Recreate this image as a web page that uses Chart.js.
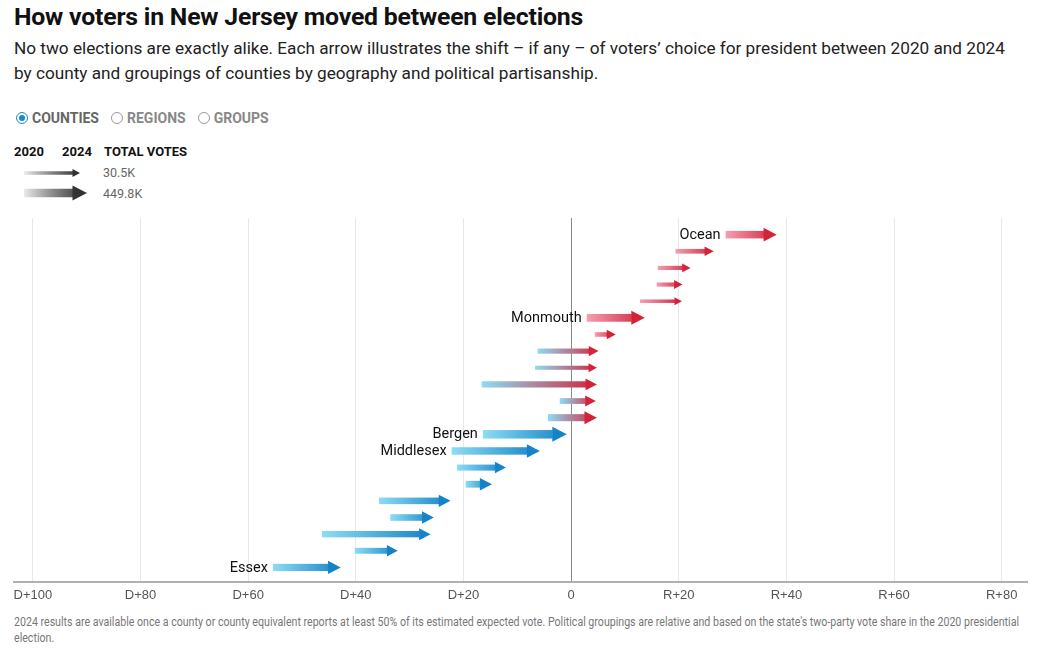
<!DOCTYPE html>
<html>
<head>
<meta charset="utf-8">
<script src="https://cdn.jsdelivr.net/npm/chart.js@4/dist/chart.umd.min.js"></script>
<style>
  body { margin: 0; background: #fff; font-family: Roboto, "Noto Sans", sans-serif; }
  #page { position: relative; width: 1042px; height: 648px; overflow: hidden; }
  h1 { position: absolute; left: 14px; top: 2px; margin: 0; font-size: 24.8px; font-weight: 700; color: #111; letter-spacing: -0.2px; }
  .sub { position: absolute; left: 14px; top: 36px; margin: 0; font-size: 17.2px; line-height: 25px; color: #222; }
  .radios { position: absolute; left: 16px; top: 110px; font-size: 14px; font-weight: 700; color: #888; display: flex; }
  .radio { display: flex; align-items: center; margin-right: 12px; }
  .radio span.c { width: 10px; height: 10px; border: 1.5px solid #999; border-radius: 50%; margin-right: 4px; box-sizing: content-box; position: relative; }
  .radio.on span.c { border-color: #1a8ad0; }
  .radio.on span.c::after { content: ""; position: absolute; left: 2px; top: 2px; width: 6px; height: 6px; border-radius: 50%; background: #1a8ad0; }
  .radio.on { color: #666; }
  .lgh { position: absolute; top: 144px; font-size: 13px; font-weight: 700; color: #111; }
  .lgv { position: absolute; left: 103px; font-size: 12.5px; color: #666; }
  #legendArrows { position: absolute; left: 0; top: 162px; }
  #wrap { position: absolute; left: 0; top: 210px; width: 1042px; height: 398px; }
  .foot { position: absolute; left: 14px; top: 614px; width: 1150px; font-size: 12px; line-height: 16px; color: #777; transform: scaleX(0.885); transform-origin: 0 0; }
</style>
</head>
<body>
<div id="page">
  <h1>How voters in New Jersey moved between elections</h1>
  <p class="sub">No two elections are exactly alike. Each arrow illustrates the shift – if any – of voters’ choice for president between 2020 and 2024<br>by county and groupings of counties by geography and political partisanship.</p>
  <div class="radios">
    <div class="radio on"><span class="c"></span>COUNTIES</div>
    <div class="radio"><span class="c"></span>REGIONS</div>
    <div class="radio"><span class="c"></span>GROUPS</div>
  </div>
  <div class="lgh" style="left:14px">2020</div>
  <div class="lgh" style="left:62px">2024</div>
  <div class="lgh" style="left:104px">TOTAL VOTES</div>
  <canvas id="legendArrows" width="100" height="40"></canvas>
  <div class="lgv" id="lgMin" style="top:165px"></div>
  <div class="lgv" id="lgMax" style="top:186px"></div>
  <div id="wrap"><canvas id="chart"></canvas></div>
  <div class="foot">2024 results are available once a county or county equivalent reports at least 50% of its estimated expected vote. Political groupings are relative and based on the state's two-party vote share in the 2020 presidential<br>election.</div>
</div>
<script>
// counties top to bottom; margins in points, negative = D, positive = R
const counties = ["Ocean", "Sussex", "Warren", "Cape May", "Salem", "Monmouth", "Hunterdon",
  "Atlantic", "Cumberland", "Passaic", "Gloucester", "Morris", "Bergen", "Middlesex",
  "Somerset", "Burlington", "Union", "Camden", "Hudson", "Mercer", "Essex"];
const margin2020 = [28.7, 19.4, 16.1, 15.9, 12.8, 2.9, 4.4, -6.2, -6.7, -16.6, -2.1, -4.3,
  -16.4, -22.2, -21.2, -19.6, -35.7, -33.6, -46.3, -40.2, -55.4];
const margin2024 = [38.2, 26.5, 22.2, 20.7, 20.6, 13.7, 8.3, 5.1, 4.8, 4.8, 4.6, 4.8,
  -0.8, -5.8, -12.1, -14.7, -22.4, -25.5, -26.1, -32.2, -42.8];
// total votes, thousands
const totalVotes = [330, 85, 57, 58, 30.5, 360, 80, 115, 55, 200, 160, 280,
  449.8, 320, 180, 250, 230, 230, 210, 170, 290];
const labeled = ["Ocean", "Monmouth", "Bergen", "Middlesex", "Essex"];
const tickValues = [-100, -80, -60, -40, -20, 0, 20, 40, 60, 80];

const minVotes = Math.min(...totalVotes);
const maxVotes = Math.max(...totalVotes);

const RED_LIGHT = "#f3a0b1", RED_DARK = "#d3233b";
const BLUE_LIGHT = "#8ddcf4", BLUE_DARK = "#1683c6";

function sizeFor(v) {
  const t = (Math.sqrt(v) - Math.sqrt(minVotes)) / (Math.sqrt(maxVotes) - Math.sqrt(minVotes));
  return { shaft: 3.5 + 5 * t, head: 8 + 7 * t, len: 7.5 + 7 * t };
}

function drawArrow(ctx, x0, x1, y, size, c0, c1) {
  const g = ctx.createLinearGradient(x0, 0, x1, 0);
  g.addColorStop(0, c0);
  g.addColorStop(1, c1);
  const hx = x1 - size.len;
  ctx.fillStyle = g;
  ctx.fillRect(x0, y - size.shaft / 2, Math.max(0, hx - x0 + 0.5), size.shaft);
  ctx.fillStyle = c1;
  ctx.beginPath();
  ctx.moveTo(hx, y - size.head / 2);
  ctx.lineTo(x1, y);
  ctx.lineTo(hx, y + size.head / 2);
  ctx.closePath();
  ctx.fill();
}

// legend
(function () {
  const lc = document.getElementById("legendArrows").getContext("2d");
  drawArrow(lc, 24, 80, 11, sizeFor(minVotes), "rgba(0,0,0,0.08)", "#333");
  drawArrow(lc, 24, 87, 31, sizeFor(maxVotes), "rgba(0,0,0,0.08)", "#333");
  document.getElementById("lgMin").textContent = minVotes.toFixed(1) + "K";
  document.getElementById("lgMax").textContent = maxVotes.toFixed(1) + "K";
})();

const arrowPlugin = {
  id: "arrows",
  afterDatasetsDraw(chart) {
    const ctx = chart.ctx;
    const xs = chart.scales.x, ys = chart.scales.y;
    ctx.save();
    counties.forEach((name, i) => {
      const x0 = xs.getPixelForValue(margin2020[i]);
      const x1 = xs.getPixelForValue(margin2024[i]);
      const y = ys.getPixelForValue(i);
      const c0 = margin2020[i] < 0 ? BLUE_LIGHT : RED_LIGHT;
      const c1 = margin2024[i] < 0 ? BLUE_DARK : RED_DARK;
      drawArrow(ctx, x0, x1, y, sizeFor(totalVotes[i]), c0, c1);
      if (labeled.includes(name)) {
        ctx.fillStyle = "#111";
        ctx.font = "14.5px Roboto, 'Noto Sans', sans-serif";
        ctx.textAlign = "right";
        ctx.textBaseline = "middle";
        ctx.fillText(name, x0 - 5, y + 0.5);
      }
    });
    ctx.restore();
  }
};

new Chart(document.getElementById("chart"), {
  type: "bar",
  data: {
    datasets: [{
      data: counties.map((c, i) => ({ y: i, x: [margin2020[i], margin2024[i]] })),
      backgroundColor: "rgba(0,0,0,0)"
    }]
  },
  options: {
    indexAxis: "y",
    responsive: true,
    maintainAspectRatio: false,
    animation: false,
    layout: { padding: { left: 14, right: 15, top: 8, bottom: 0 } },
    plugins: { legend: { display: false }, tooltip: { enabled: false } },
    scales: {
      x: {
        type: "linear",
        min: -103.5,
        max: 84.7,
        afterBuildTicks: axis => { axis.ticks = tickValues.map(v => ({ value: v })); },
        ticks: {
          padding: 5,
          color: "#555",
          font: { size: 13 },
          callback: v => v === 0 ? "0" : (v < 0 ? "D+" + (-v) : "R+" + v)
        },
        grid: {
          drawTicks: false,
          color: c => c.tick && c.tick.value === 0 ? "#8a8a8a" : "#e8e8e8",
          lineWidth: 1
        },
        border: { color: "#b0b0b0", width: 2 }
      },
      y: {
        type: "linear",
        reverse: true,
        offset: false,
        min: -1.0,
        max: 20.9,
        display: false
      }
    }
  },
  plugins: [arrowPlugin]
});
</script>
</body>
</html>
